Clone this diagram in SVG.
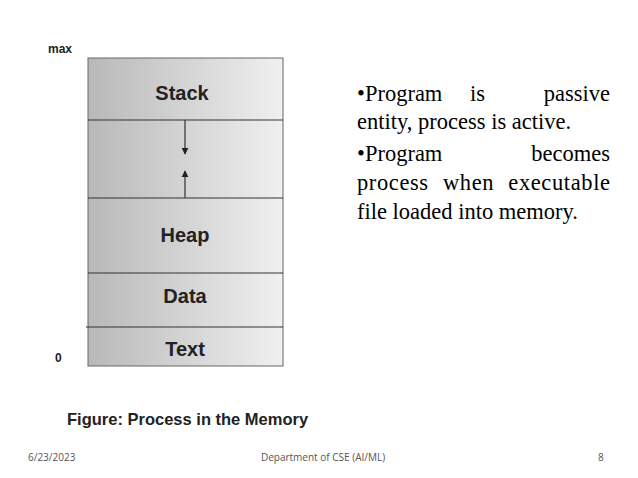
<svg xmlns="http://www.w3.org/2000/svg" width="638" height="478" viewBox="0 0 638 478">
<style>
.l{font-family:"Liberation Sans",Arial,sans-serif;font-weight:bold;fill:#222}
.seg{font-size:20px;text-anchor:middle}
.b{font-family:"Liberation Serif","Times New Roman",serif;font-size:22.5px;fill:#000}
.f{font-family:"Open Sans","Liberation Sans",sans-serif;font-size:10px;fill:#555}
.ln{stroke:#333;stroke-width:1.2}
</style>
<defs>
<linearGradient id="g" x1="0" x2="1" y1="0" y2="0"><stop offset="0" stop-color="#b8b8b8"/><stop offset="1" stop-color="#f0f0f0"/></linearGradient>
<marker id="a" viewBox="0 0 10 10" refX="9" refY="5" markerWidth="6" markerHeight="6" orient="auto"><path d="M0,0 L10,5 L0,10 z" fill="#222"/></marker>
</defs>
<rect width="638" height="478" fill="#fff"/>
<text class="l" x="48" y="53" font-size="12">max</text>
<text class="l" x="55" y="362" font-size="12">0</text>
<g id="memory">
<rect x="88" y="58" width="195" height="308" fill="url(#g)" stroke="#666" stroke-width="1"/>
<line class="ln" x1="88" y1="120" x2="283" y2="120"/>
<line class="ln" x1="88" y1="198" x2="283" y2="198"/>
<line class="ln" x1="88" y1="273" x2="283" y2="273"/>
<line class="ln" x1="86" y1="327" x2="283" y2="327"/>
</g>
<g id="stack"><text class="l seg" x="182" y="100">Stack</text></g>
<g id="heap"><text class="l seg" x="185" y="242">Heap</text></g>
<g id="data"><text class="l seg" x="185" y="303">Data</text></g>
<g id="textseg"><text class="l seg" x="185" y="356">Text</text></g>
<g id="connectors">
<line class="ln" x1="185" y1="120" x2="185" y2="154" marker-end="url(#a)"/>
<line class="ln" x1="185" y1="198" x2="185" y2="171" marker-end="url(#a)"/>
</g>
<text class="l" x="67" y="425" font-size="16.5">Figure: Process in the Memory</text>
<g id="bullets">
<text class="b" x="357" y="101">•Program</text><text class="b" x="470" y="101">is</text><text class="b" x="610" y="101" text-anchor="end">passive</text>
<text class="b" x="357" y="129">entity, process is active.</text>
<text class="b" x="357" y="161">•Program</text><text class="b" x="610" y="161" text-anchor="end">becomes</text>
<text class="b" x="357" y="190" textLength="253" lengthAdjust="spacing" word-spacing="8">process when executable</text>
<text class="b" x="357" y="219">file loaded into memory.</text>
</g>
<text class="f" x="28" y="461">6/23/2023</text>
<text class="f" x="323" y="461" text-anchor="middle">Department of CSE (AI/ML)</text>
<text class="f" x="598" y="461">8</text>
</svg>
